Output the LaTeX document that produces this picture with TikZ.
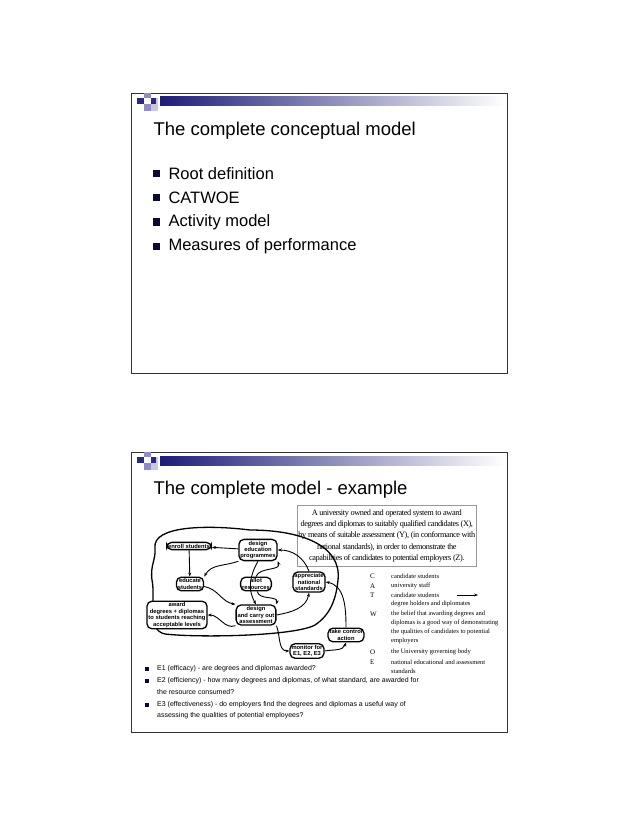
\documentclass[tikz,border=0pt]{standalone}
\usepackage{fontspec}
\setmainfont{Liberation Sans}
\newfontfamily\serifx{Liberation Serif}
\newfontfamily\serifc[LetterSpace=-5]{Liberation Serif}
\usetikzlibrary{arrows.meta}
\definecolor{navy}{RGB}{30,30,120}
\definecolor{bdark}{RGB}{10,10,50}
\definecolor{sq1}{RGB}{40,40,130}
\definecolor{sq2}{RGB}{140,140,200}
\definecolor{sq3}{RGB}{200,200,230}
\tikzset{
 slide/.style={draw=black!80,line width=0.6pt},
 blob/.style={draw,line width=1.3pt,rounded corners=5pt,fill=white,font=\fontsize{5.8}{6.4}\selectfont\bfseries,align=center,inner sep=1.5pt},
 arr/.style={-{Stealth[length=4pt]},line width=0.9pt},
 bl/.style={fill=bdark,minimum size=7pt,inner sep=0pt},
 cat/.style={anchor=west,font=\serifx\fontsize{6.5}{7.5}\selectfont,inner sep=0pt}
}
\begin{document}
\begin{tikzpicture}[x=1pt,y=-1pt]
\useasboundingbox (0,0) rectangle (638,826);
\fill[white] (0,0) rectangle (638,826);
% slides
\foreach \t in {93,452}{
 \draw[slide] (131,\t) rectangle (507,\t+280);
 \shade[left color=navy,right color=white] (160,\t+4) rectangle (505,\t+13);
 \fill[sq1] (137,\t+5) rectangle (144,\t+11);
 \fill[sq2] (144,\t) rectangle (151,\t+5);
 \fill[sq3] (151,\t+5) rectangle (158,\t+11);
 \fill[sq2] (144,\t+11) rectangle (151,\t+18);
 \fill[sq3] (151,\t+11) rectangle (158,\t+18);
 \fill[sq1] (151,\t+5) rectangle (156,\t+11);
}
% slide 1
\node[anchor=west,font=\fontsize{18.5}{20}\selectfont] (t1) at (150,131) {The complete conceptual model};
\foreach \y/\s [count=\i] in {174/Root definition,198/CATWOE,222/Activity model,246/Measures of performance}{
 \node[bl] (b\i) at (156,\y) {};
 \node[anchor=west,font=\fontsize{16.5}{18}\selectfont] (bt\i) at (165,\y) {\s};
}
% slide 2
\node[anchor=west,font=\fontsize{18.5}{20}\selectfont] (t2) at (150,490) {The complete model - example};
\node[draw=black!40,line width=0.6pt,fill=white,minimum width=179pt,minimum height=61pt,anchor=north west] (rd) at (297,505) {};
\node[font=\serifc\fontsize{8.3}{11.3}\selectfont,align=center,inner sep=0pt] (rdt) at (rd.center) {A university owned and operated system to award\\degrees and diplomas to suitably qualified candidates (X),\\by means of suitable assessment (Y), (in conformance with\\national standards), in order to demonstrate the\\capabilities of candidates to potential employers (Z).};
% CATWOE
\foreach \y/\l/\s [count=\i] in {576/C/candidate students,586/A/university staff,595/T/candidate students,604//degree holders and diplomates,614/W/the belief that awarding degrees and,623//diplomas is a good way of demonstrating,632//the qualities of candidates to potential,641//employers,652/O/the University governing body,662/E/national educational and assessment,671//standards}{
 \node[cat,font=\serifx\fontsize{7}{8}\selectfont] (cl\i) at (370,\y) {\l};
 \node[cat] (ct\i) at (391,\y) {\s};
}
\coordinate (ta) at (457,595); \coordinate (tb) at (478,595);
\draw[-{Stealth[length=4pt]},line width=0.8pt] (ta) -- (tb);
% bullets slide 2
\foreach \y/\s [count=\i] in {669/{E1 (efficacy) - are degrees and diplomas awarded?},681/{E2 (efficiency) - how many degrees and diplomas, of what standard, are awarded for},705/{E3 (effectiveness) - do employers find the degrees and diplomas a useful way of}}{
 \node[fill=bdark,minimum size=4pt,inner sep=0pt] (sb\i) at (147,\y) {};
 \node[anchor=west,font=\fontsize{7}{8}\selectfont,inner sep=0pt] (sbt\i) at (157,\y) {\s};
}
\node[anchor=west,font=\fontsize{7}{8}\selectfont,inner sep=0pt] (sbt2b) at (157,692) {the resource consumed?};
\node[anchor=west,font=\fontsize{7}{8}\selectfont,inner sep=0pt] (sbt3b) at (157,716) {assessing the qualities of potential employees?};
% big loop
\draw[line width=1.3pt] (155,548) .. controls (152,525) and (210,525) .. (250,530) .. controls (300,530) and (342,545) .. (338,580) .. controls (336,600) and (330,615) .. (315,625) .. controls (295,636) and (200,638) .. (165,634) .. controls (146,630) and (156,600) .. (152,580) .. controls (150,565) and (156,560) .. (155,548) -- cycle;
% activity blobs
\node[blob] (en) at (189,546) {enroll students};
\node[blob] (de) at (258,550) {design\\education\\programmes};
\node[blob] (ed) at (190,584) {educate\\students};
\node[blob] (al) at (256,584) {allot\\resources};
\node[blob] (ap) at (309,582) {appreciate\\national\\standards};
\node[blob] (aw) at (177,615) {award\\degrees + diplomas\\to students reaching\\acceptable levels};
\node[blob] (da) at (256,615) {design\\and carry out\\assessment};
\node[blob] (tc) at (346,635) {take control\\action};
\node[blob] (mo) at (307,651) {monitor for\\E1, E2, E3};
% connectors
\draw[arr] (de) -- (en);
\draw[arr] (en) -- (ed);
\draw[arr] (de.south west) to[out=200,in=60] (ed.north east);
\draw[arr] (ed) to[out=-10,in=170] (da.north west);
\draw[arr] (de.south) to[out=-120,in=120] (da.north);
\draw[arr] (al) to[out=-80,in=80] (da.north east);
\draw[arr] (al.north) to[out=70,in=-70] (de.south east);
\draw[arr] (ap.north) to[out=110,in=0] (de.east);
\draw[arr] (da.east) to[out=10,in=-100] (ap.south);
\draw[arr] (da.south west) to[out=-160,in=0] (aw.east);
\draw[arr] (da.south east) to[out=-70,in=180] (mo.west);
\draw[arr] (mo.east) to[out=10,in=-110] (tc.south);
\draw[arr] (tc.north) to[out=90,in=-10] (ap.east);
\end{tikzpicture}
\end{document}
